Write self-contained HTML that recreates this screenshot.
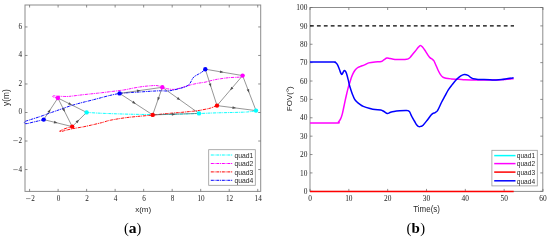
<!DOCTYPE html><html><head><meta charset="utf-8"><style>html,body{margin:0;padding:0;background:#fff;width:550px;height:240px;overflow:hidden}svg{display:block}</style></head><body><svg width="550" height="240" viewBox="0 0 550 240">
<rect width="550" height="240" fill="#fff"/>
<rect x="25" y="5" width="235.7" height="186.4" fill="none" stroke="#8c8c8c" stroke-width="1"/>
<path d="M29.58,191.4v-2.5M29.58,5v2.5M58.1,191.4v-2.5M58.1,5v2.5M86.62,191.4v-2.5M86.62,5v2.5M115.14,191.4v-2.5M115.14,5v2.5M143.66,191.4v-2.5M143.66,5v2.5M172.18,191.4v-2.5M172.18,5v2.5M200.7,191.4v-2.5M200.7,5v2.5M229.22,191.4v-2.5M229.22,5v2.5M257.74,191.4v-2.5M257.74,5v2.5M25,169.54h2.5M260.7,169.54h-2.5M25,141.02h2.5M260.7,141.02h-2.5M25,112.5h2.5M260.7,112.5h-2.5M25,83.98h2.5M260.7,83.98h-2.5M25,55.46h2.5M260.7,55.46h-2.5M25,26.94h2.5M260.7,26.94h-2.5" stroke="#6a6a6a" stroke-width="0.75" fill="none"/>
<g font-family="Liberation Serif, serif" font-size="7.2" fill="#1a1a1a" text-anchor="middle"><text x="29.98" y="201"><tspan font-family="DejaVu Sans, sans-serif" fill="#5a5a5a">−</tspan>2</text><text x="58.5" y="201">0</text><text x="87.02" y="201">2</text><text x="115.54" y="201">4</text><text x="144.06" y="201">6</text><text x="172.58" y="201">8</text><text x="201.1" y="201">10</text><text x="229.62" y="201">12</text><text x="258.14" y="201">14</text></g>
<g font-family="Liberation Serif, serif" font-size="7.2" fill="#1a1a1a" text-anchor="end"><text x="22.2" y="171.5"><tspan font-family="DejaVu Sans, sans-serif" fill="#5a5a5a">−</tspan>4</text><text x="22.2" y="142.9"><tspan font-family="DejaVu Sans, sans-serif" fill="#5a5a5a">−</tspan>2</text><text x="22.2" y="114.3">0</text><text x="22.2" y="85.7">2</text><text x="22.2" y="57.1">4</text><text x="22.2" y="28.5">6</text></g>
<text x="143.2" y="211.5" font-family="Liberation Sans, sans-serif" font-size="8" fill="#262626" text-anchor="middle">x(m)</text>
<text transform="translate(9.4,97.6) rotate(-90)" font-family="Liberation Sans, sans-serif" font-size="8.7" textLength="16.6" lengthAdjust="spacingAndGlyphs" fill="#262626" text-anchor="middle">y(m)</text>
<path d="M86.6,112.4C88.5,112.52 94.1,112.9 98,113.1C101.9,113.3 104.67,113.42 110,113.6C115.33,113.78 123,114.05 130,114.2C137,114.35 144.5,114.5 152,114.5C159.5,114.5 167.15,114.37 175,114.2C182.85,114.03 192.43,113.72 199.1,113.5C205.77,113.28 209.52,113.07 215,112.9C220.48,112.73 227,112.63 232,112.5C237,112.37 241.92,112.25 245,112.1C248.08,111.95 248.68,111.83 250.5,111.6C252.32,111.37 255,110.85 255.9,110.7" fill="none" stroke="#00ffff" stroke-width="0.95" stroke-dasharray="3 0.8 0.9 0.8" stroke-linejoin="round"/>
<path d="M72.2,126.7C71.5,126.85 69.53,127.13 68,127.6C66.47,128.07 64.45,128.87 63,129.5C61.55,130.13 59.47,131.1 59.3,131.4C59.13,131.7 60.88,131.5 62,131.3C63.12,131.1 64.62,130.55 66,130.2C67.38,129.85 68.65,129.55 70.3,129.2C71.95,128.85 73.45,128.55 75.9,128.1C78.35,127.65 80.73,127.4 85,126.5C89.27,125.6 97.33,123.73 101.5,122.7C105.67,121.67 106.08,121.12 110,120.3C113.92,119.48 120,118.48 125,117.8C130,117.12 135.4,116.65 140,116.2C144.6,115.75 148.13,115.53 152.6,115.1C157.07,114.67 161.9,114.07 166.8,113.6C171.7,113.13 176.9,112.78 182,112.3C187.1,111.82 193.73,111.17 197.4,110.7C201.07,110.23 201.82,109.93 204,109.5C206.18,109.07 208.33,108.77 210.5,108.1C212.67,107.43 215.92,105.93 217,105.5" fill="none" stroke="#ff0000" stroke-width="0.95" stroke-dasharray="3 0.8 0.9 0.8" stroke-linejoin="round"/>
<path d="M58,98C57.5,97.93 55.9,97.83 55,97.6C54.1,97.37 52.83,96.9 52.6,96.6C52.37,96.3 52.87,95.88 53.6,95.8C54.33,95.72 54.81,95.98 57,96.1C59.19,96.22 64.17,96.52 66.75,96.5C69.33,96.48 69.46,96.33 72.5,96C75.54,95.67 80.83,94.97 85,94.5C89.17,94.03 93.33,93.67 97.5,93.2C101.67,92.73 105.57,92.25 110,91.7C114.43,91.15 120.23,90.5 124.1,89.9C127.97,89.3 130.17,88.65 133.2,88.1C136.23,87.55 139.27,87 142.3,86.6C145.33,86.2 148.95,85.87 151.4,85.7C153.85,85.53 155.23,85.38 157,85.6C158.77,85.82 160.25,86.47 162,87C163.75,87.53 165.54,88.35 167.5,88.75C169.46,89.15 171.67,89.51 173.75,89.4C175.83,89.29 177.92,88.62 180,88.1C182.08,87.57 184.17,86.87 186.25,86.25C188.33,85.63 190.42,84.93 192.5,84.4C194.58,83.88 196.67,83.47 198.75,83.1C200.83,82.73 203.09,82.58 205,82.2C206.91,81.82 208.47,81.23 210.2,80.8C211.93,80.37 213.67,79.94 215.4,79.6C217.13,79.26 218.87,79.02 220.6,78.75C222.33,78.48 224.07,78.21 225.8,78C227.53,77.79 229.26,77.62 231,77.5C232.74,77.38 234.68,77.38 236.25,77.3C237.82,77.22 239.33,77.28 240.4,77C241.47,76.72 242.32,75.83 242.7,75.6" fill="none" stroke="#ff00ff" stroke-width="0.95" stroke-dasharray="3 0.8 0.9 0.8" stroke-linejoin="round"/>
<path d="M43.9,119.6C42.92,119.83 39.98,120.53 38,121C36.02,121.47 33.83,121.97 32,122.4C30.17,122.83 28.2,123.45 27,123.6C25.8,123.75 25.15,123.63 24.8,123.3C24.45,122.97 24.03,122.18 24.9,121.6C25.77,121.02 27.48,120.63 30,119.8C32.52,118.97 36.67,117.73 40,116.6C43.33,115.47 46.67,114.18 50,113C53.33,111.82 56.67,110.67 60,109.5C63.33,108.33 66.67,107.07 70,106C73.33,104.93 76.67,104 80,103.1C83.33,102.2 86.67,101.45 90,100.6C93.33,99.75 96.67,98.87 100,98C103.33,97.13 106.73,96.17 110,95.4C113.27,94.63 117.25,93.8 119.6,93.4C121.95,93 121.83,93.17 124.1,93C126.37,92.83 130.17,92.6 133.2,92.4C136.23,92.2 139.27,92 142.3,91.8C145.33,91.6 148.37,91.37 151.4,91.2C154.43,91.03 157.82,90.83 160.5,90.8C163.18,90.77 165.29,91.13 167.5,91C169.71,90.87 171.67,90.43 173.75,90C175.83,89.57 178.12,88.92 180,88.4C181.88,87.88 183.58,87.47 185,86.9C186.42,86.33 187.53,85.82 188.5,85C189.47,84.18 190.17,83 190.8,82C191.43,81 191.8,79.83 192.3,79C192.8,78.17 193.18,77.58 193.8,77C194.42,76.42 195.18,76 196,75.5C196.82,75 197.75,74.58 198.75,74C199.75,73.42 200.93,72.8 202,72C203.07,71.2 204.67,69.67 205.2,69.2" fill="none" stroke="#0000ff" stroke-width="0.95" stroke-dasharray="3 0.8 0.9 0.8" stroke-linejoin="round"/>
<path d="M43.7,119.6L57.9,98M43.7,119.6L72.2,126.6M57.9,98L72.2,126.6M57.9,98L86.6,112.4M72.2,126.6L86.6,112.4M119.6,93.4L162.3,87.3M119.6,93.4L152.7,114.9M162.3,87.3L152.7,114.9M162.3,87.3L199,113.4M152.7,114.9L199,113.4M205.3,69.2L242.6,75.6M205.3,69.2L217,105.6M242.6,75.6L217,105.6M242.6,75.6L256,110.6M217,105.6L256,110.6" stroke="#505050" stroke-width="0.6" fill="none"/>
<path d="M50.58,109.13L49.73,112.88L47.47,111.4ZM57.56,123L53.74,123.46L54.39,120.83ZM64.87,111.94L62.05,109.33L64.47,108.12ZM71.89,105.02L68.07,104.61L69.28,102.2ZM79.12,119.78L77.5,123.27L75.6,121.35ZM140.55,90.41L137.18,92.25L136.8,89.58ZM135.81,103.93L132.06,103.1L133.53,100.84ZM157.63,100.72L157.54,96.88L160.09,97.77ZM180.32,100.12L176.61,99.13L178.17,96.93ZM175.45,114.16L171.9,115.63L171.81,112.93ZM223.56,72.33L219.78,73.05L220.24,70.39ZM211.03,87.02L208.64,84L211.21,83.18ZM230.06,90.3L231.37,86.68L233.42,88.43ZM249.16,92.73L246.61,89.85L249.13,88.88ZM236.1,108.05L232.36,108.93L232.7,106.25Z" fill="#505050" stroke="none"/>
<circle cx="86.6" cy="112.4" r="2.2" fill="#00ffff"/>
<circle cx="57.9" cy="98" r="2.2" fill="#ff00ff"/>
<circle cx="72.2" cy="126.6" r="2.2" fill="#ff0000"/>
<circle cx="43.7" cy="119.6" r="2.2" fill="#0000ff"/>
<circle cx="199" cy="113.4" r="2.2" fill="#00ffff"/>
<circle cx="162.3" cy="87.3" r="2.2" fill="#ff00ff"/>
<circle cx="152.7" cy="114.9" r="2.2" fill="#ff0000"/>
<circle cx="119.6" cy="93.4" r="2.2" fill="#0000ff"/>
<circle cx="256" cy="110.6" r="2.2" fill="#00ffff"/>
<circle cx="242.6" cy="75.6" r="2.2" fill="#ff00ff"/>
<circle cx="217" cy="105.6" r="2.2" fill="#ff0000"/>
<circle cx="205.3" cy="69.2" r="2.2" fill="#0000ff"/>
<rect x="208.7" y="149.7" width="46.6" height="35.6" fill="#fff" stroke="#999" stroke-width="0.8"/>
<line x1="210.8" y1="155" x2="233" y2="155" stroke="#00ffff" stroke-width="1" stroke-dasharray="3 0.8 0.9 0.8"/>
<text x="234.4" y="157.7" font-family="Liberation Sans, sans-serif" font-size="7.1" textLength="18.9" lengthAdjust="spacingAndGlyphs" fill="#262626">quad1</text>
<line x1="210.8" y1="163.5" x2="233" y2="163.5" stroke="#ff00ff" stroke-width="1" stroke-dasharray="3 0.8 0.9 0.8"/>
<text x="234.4" y="166.2" font-family="Liberation Sans, sans-serif" font-size="7.1" textLength="18.9" lengthAdjust="spacingAndGlyphs" fill="#262626">quad2</text>
<line x1="210.8" y1="171.9" x2="233" y2="171.9" stroke="#ff0000" stroke-width="1" stroke-dasharray="3 0.8 0.9 0.8"/>
<text x="234.4" y="174.6" font-family="Liberation Sans, sans-serif" font-size="7.1" textLength="18.9" lengthAdjust="spacingAndGlyphs" fill="#262626">quad3</text>
<line x1="210.8" y1="180.3" x2="233" y2="180.3" stroke="#0000ff" stroke-width="1" stroke-dasharray="3 0.8 0.9 0.8"/>
<text x="234.4" y="183" font-family="Liberation Sans, sans-serif" font-size="7.1" textLength="18.9" lengthAdjust="spacingAndGlyphs" fill="#262626">quad4</text>
<rect x="310" y="7.5" width="232.8" height="183.9" fill="none" stroke="#8c8c8c" stroke-width="1"/>
<path d="M310,191.4v-2.5M310,7.5v2.5M348.83,191.4v-2.5M348.83,7.5v2.5M387.66,191.4v-2.5M387.66,7.5v2.5M426.49,191.4v-2.5M426.49,7.5v2.5M465.32,191.4v-2.5M465.32,7.5v2.5M504.15,191.4v-2.5M504.15,7.5v2.5M542.98,191.4v-2.5M542.98,7.5v2.5M310,191.3h2.5M542.8,191.3h-2.5M310,172.92h2.5M542.8,172.92h-2.5M310,154.54h2.5M542.8,154.54h-2.5M310,136.16h2.5M542.8,136.16h-2.5M310,117.78h2.5M542.8,117.78h-2.5M310,99.4h2.5M542.8,99.4h-2.5M310,81.02h2.5M542.8,81.02h-2.5M310,62.64h2.5M542.8,62.64h-2.5M310,44.26h2.5M542.8,44.26h-2.5M310,25.88h2.5M542.8,25.88h-2.5M310,7.5h2.5M542.8,7.5h-2.5" stroke="#6a6a6a" stroke-width="0.75" fill="none"/>
<g font-family="Liberation Serif, serif" font-size="7.4" fill="#1a1a1a" text-anchor="middle"><text x="310" y="201.4">0</text><text x="348.83" y="201.4">10</text><text x="387.66" y="201.4">20</text><text x="426.49" y="201.4">30</text><text x="465.32" y="201.4">40</text><text x="504.15" y="201.4">50</text><text x="542.98" y="201.4">60</text></g>
<g font-family="Liberation Serif, serif" font-size="7.4" fill="#1a1a1a" text-anchor="end"><text x="307.4" y="194">0</text><text x="307.4" y="175.62">10</text><text x="307.4" y="157.24">20</text><text x="307.4" y="138.86">30</text><text x="307.4" y="120.48">40</text><text x="307.4" y="102.1">50</text><text x="307.4" y="83.72">60</text><text x="307.4" y="65.34">70</text><text x="307.4" y="46.96">80</text><text x="307.4" y="28.58">90</text><text x="307.4" y="10.2">100</text></g>
<text x="426.6" y="212.1" font-family="Liberation Sans, sans-serif" font-size="8.8" textLength="26.6" lengthAdjust="spacingAndGlyphs" fill="#262626" text-anchor="middle">Time(s)</text>
<text transform="translate(292.4,98.7) rotate(-90)" font-family="Liberation Sans, sans-serif" font-size="8" fill="#262626" text-anchor="middle">FOV(°)</text>
<line x1="310" y1="25.88" x2="514" y2="25.88" stroke="#000" stroke-width="1.4" stroke-dasharray="3.8 3.12"/>
<path d="M310,123C314.43,123 331.83,123.18 336.6,123C341.37,122.82 337.93,122.58 338.6,121.9C339.27,121.22 340,120.15 340.6,118.9C341.2,117.65 341.7,116.22 342.2,114.4C342.7,112.58 343.1,110.33 343.6,108C344.1,105.67 344.68,102.77 345.2,100.4C345.72,98.03 346.2,95.93 346.7,93.8C347.2,91.67 347.73,89.3 348.2,87.6C348.67,85.9 349,85.2 349.5,83.6C350,82 350.62,79.67 351.2,78C351.78,76.33 352.37,74.9 353,73.6C353.63,72.3 354.3,71.13 355,70.2C355.7,69.27 356.37,68.6 357.2,68C358.03,67.4 358.78,67.12 360,66.6C361.22,66.08 363.04,65.52 364.5,64.9C365.96,64.28 367,63.4 368.75,62.9C370.5,62.4 372.92,62.12 375,61.9C377.08,61.68 379.72,61.98 381.25,61.6C382.78,61.22 383.26,60.2 384.2,59.6C385.14,59 385.93,58.18 386.9,58C387.87,57.82 388.65,58.27 390,58.5C391.35,58.73 392.92,59.23 395,59.4C397.08,59.57 400.58,59.52 402.5,59.5C404.42,59.48 405.5,59.45 406.5,59.3C407.5,59.15 407.83,59 408.5,58.6C409.17,58.2 409.42,58.08 410.5,56.9C411.58,55.72 413.7,53.1 415,51.5C416.3,49.9 417.42,48.3 418.3,47.3C419.18,46.3 419.6,45.55 420.3,45.5C421,45.45 421.62,46.03 422.5,47C423.38,47.97 424.63,49.87 425.6,51.3C426.57,52.73 427.53,54.5 428.3,55.6C429.07,56.7 429.55,57.3 430.2,57.9C430.85,58.5 431.6,58.75 432.2,59.2C432.8,59.65 433.25,59.77 433.8,60.6C434.35,61.43 434.78,62.6 435.5,64.2C436.22,65.8 437.27,68.47 438.1,70.2C438.93,71.93 439.72,73.45 440.5,74.6C441.28,75.75 441.88,76.48 442.8,77.1C443.72,77.72 444.58,78 446,78.3C447.42,78.6 449.17,78.73 451.3,78.9C453.43,79.07 456.52,79.15 458.8,79.3C461.08,79.45 462.58,79.7 465,79.8C467.42,79.9 470.52,79.88 473.3,79.9C476.08,79.92 478.92,79.9 481.7,79.9C484.48,79.9 487.23,79.87 490,79.9C492.77,79.93 495.52,80.22 498.3,80.1C501.08,79.98 504.15,79.42 506.7,79.2C509.25,78.98 512.45,78.87 513.6,78.8" fill="none" stroke="#ff00ff" stroke-width="1.5" stroke-linejoin="round"/>
<path d="M310,62C313.83,62 328.87,61.95 333,62C337.13,62.05 334.23,62.08 334.8,62.3C335.37,62.52 335.9,62.8 336.4,63.3C336.9,63.8 337.37,64.47 337.8,65.3C338.23,66.13 338.6,67.25 339,68.3C339.4,69.35 339.83,70.68 340.2,71.6C340.57,72.52 340.92,73.33 341.2,73.8C341.48,74.27 341.63,74.53 341.9,74.4C342.17,74.27 342.42,73.63 342.8,73C343.18,72.37 343.77,70.9 344.2,70.6C344.63,70.3 345.02,70.7 345.4,71.2C345.78,71.7 346.05,72.23 346.5,73.6C346.95,74.97 347.62,77.5 348.1,79.4C348.58,81.3 348.95,83.3 349.4,85C349.85,86.7 350.28,88.02 350.8,89.6C351.32,91.18 351.9,92.97 352.5,94.5C353.1,96.03 353.65,97.55 354.4,98.8C355.15,100.05 356.07,101.07 357,102C357.93,102.93 358.95,103.67 360,104.4C361.05,105.13 361.63,105.72 363.3,106.4C364.97,107.08 368.05,107.97 370,108.5C371.95,109.03 373.2,109.35 375,109.6C376.8,109.85 379.3,109.68 380.8,110C382.3,110.32 382.9,110.93 384,111.5C385.1,112.07 386.32,113.28 387.4,113.4C388.48,113.52 389.4,112.53 390.5,112.2C391.6,111.87 392.45,111.63 394,111.4C395.55,111.17 397.88,110.95 399.8,110.8C401.72,110.65 404.17,110.53 405.5,110.5C406.83,110.47 407.13,110.4 407.8,110.6C408.47,110.8 408.83,110.72 409.5,111.7C410.17,112.68 410.98,114.95 411.8,116.5C412.62,118.05 413.57,119.58 414.4,121C415.23,122.42 416.05,124.07 416.8,125C417.55,125.93 418.2,126.38 418.9,126.6C419.6,126.82 420.3,126.53 421,126.3C421.7,126.07 422.07,126.22 423.1,125.2C424.13,124.18 425.87,121.9 427.2,120.2C428.53,118.5 430.13,116.13 431.1,115C432.07,113.87 432.38,113.75 433,113.4C433.62,113.05 434.25,113.17 434.8,112.9C435.35,112.63 435.8,112.25 436.3,111.8C436.8,111.35 436.9,111.83 437.8,110.2C438.7,108.57 440.5,104.38 441.7,102C442.9,99.62 443.9,97.93 445,95.9C446.1,93.87 447.1,91.68 448.3,89.8C449.5,87.92 450.8,86.35 452.2,84.6C453.6,82.85 455.27,80.75 456.7,79.3C458.13,77.85 459.5,76.7 460.8,75.9C462.1,75.1 463.3,74.58 464.5,74.5C465.7,74.42 467,74.93 468,75.4C469,75.87 469.62,76.73 470.5,77.3C471.38,77.87 472.05,78.45 473.3,78.8C474.55,79.15 476.22,79.28 478,79.4C479.78,79.52 482,79.45 484,79.5C486,79.55 488,79.6 490,79.7C492,79.8 494,80.12 496,80.1C498,80.08 500,79.87 502,79.6C504,79.33 506.07,78.8 508,78.5C509.93,78.2 512.67,77.92 513.6,77.8" fill="none" stroke="#0000ff" stroke-width="1.5" stroke-linejoin="round"/>
<line x1="310" y1="191.5" x2="513.7" y2="191.5" stroke="#ff0000" stroke-width="1.4"/>
<rect x="491.9" y="150.3" width="45.4" height="35.6" fill="#fff" stroke="#999" stroke-width="0.8"/>
<line x1="494.2" y1="155.6" x2="515.5" y2="155.6" stroke="#00ffff" stroke-width="1.5"/>
<text x="516.8" y="158.3" font-family="Liberation Sans, sans-serif" font-size="7.1" textLength="18.3" lengthAdjust="spacingAndGlyphs" fill="#262626">quad1</text>
<line x1="494.2" y1="163.6" x2="515.5" y2="163.6" stroke="#ff00ff" stroke-width="1.5"/>
<text x="516.8" y="166.3" font-family="Liberation Sans, sans-serif" font-size="7.1" textLength="18.3" lengthAdjust="spacingAndGlyphs" fill="#262626">quad2</text>
<line x1="494.2" y1="172.1" x2="515.5" y2="172.1" stroke="#ff0000" stroke-width="1.5"/>
<text x="516.8" y="174.8" font-family="Liberation Sans, sans-serif" font-size="7.1" textLength="18.3" lengthAdjust="spacingAndGlyphs" fill="#262626">quad3</text>
<line x1="494.2" y1="180.8" x2="515.5" y2="180.8" stroke="#0000ff" stroke-width="1.5"/>
<text x="516.8" y="183.5" font-family="Liberation Sans, sans-serif" font-size="7.1" textLength="18.3" lengthAdjust="spacingAndGlyphs" fill="#262626">quad4</text>
<text x="132.7" y="233.4" font-family="Liberation Serif, serif" font-weight="bold" font-size="14.4" fill="#000" text-anchor="middle"><tspan font-weight="normal">(</tspan><tspan font-size="15.6">a</tspan><tspan font-weight="normal">)</tspan></text>
<text x="415.9" y="233.3" font-family="Liberation Serif, serif" font-weight="bold" font-size="14.6" letter-spacing="0.3" fill="#000" text-anchor="middle"><tspan font-weight="normal">(</tspan><tspan font-size="15">b</tspan><tspan font-weight="normal">)</tspan></text>
</svg></body></html>
